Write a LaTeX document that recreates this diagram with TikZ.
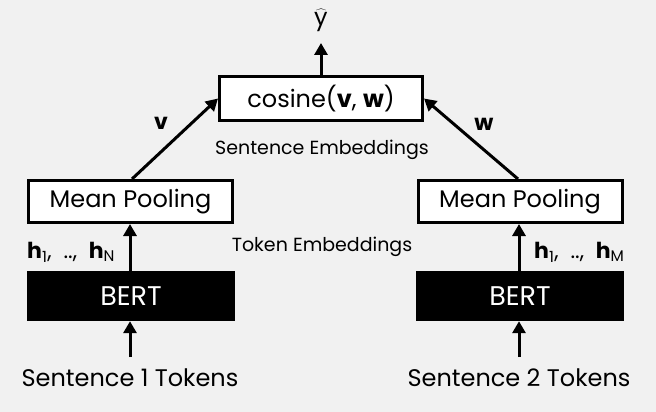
\documentclass[tikz,border=0pt]{standalone}
\usepackage{fontspec}
\setmainfont{Poppins}
\usetikzlibrary{arrows.meta}
\definecolor{bg}{HTML}{F1F1F1}
\begin{document}
\begin{tikzpicture}[x=1pt,y=-1pt,
  box/.style={draw=black, line width=3pt, fill=white, inner sep=0pt, font=\fontsize{24}{28}\selectfont},
  bertbox/.style={fill=black, text=white, minimum width=208pt, minimum height=50pt, inner sep=0pt, font=\fontsize{27}{30}\selectfont},
  arr/.style={line width=3pt, -{Triangle[length=12pt,width=13pt]}},
  lab/.style={inner sep=0pt, font=\fontsize{19}{22}\selectfont},
  hlab/.style={inner sep=0pt, font=\fontsize{22}{26}\selectfont},
  big/.style={inner sep=0pt, font=\fontsize{24}{28}\selectfont}
]
\fill[bg] (0,0) rectangle (656,412);
\useasboundingbox (0,0) rectangle (656,412);
\node[box, minimum width=203pt, minimum height=44pt] (cos) at (321,98.5) {cosine(\textbf{v}, \textbf{w})};
\node[box, minimum width=204pt, minimum height=42pt] (mpL) at (130.5,201.5) {Mean Pooling};
\node[box, minimum width=204pt, minimum height=42pt] (mpR) at (520,201.5) {Mean Pooling};
\node[bertbox] (bertL) at (131,296) {BERT};
\node[bertbox] (bertR) at (520,296) {BERT};
\node[big] (yhat) at (321,20) {$\widehat{\mbox{y}}$};
\coordinate (top) at (321,43);
\node[hlab] (v) at (161,123) {\textbf{v}};
\node[hlab] (w) at (484,124) {\textbf{w}};
\node[lab] (se) at (322,150) {Sentence Embeddings};
\node[lab] (te) at (322,247) {Token Embeddings};
\node[hlab, anchor=west] (hN) at (27,252) {\textbf{h}\textsubscript{1}, ~.., ~\textbf{h}\textsubscript{N}};
\node[hlab, anchor=west] (hM) at (534,252) {\textbf{h}\textsubscript{1}, ~.., ~\textbf{h}\textsubscript{M}};
\node[big] (s1) at (130,378) {Sentence 1 Tokens};
\node[big] (s2) at (519,378) {Sentence 2 Tokens};
\coordinate (a1) at (130,357);
\coordinate (a2) at (519,357);
\draw[arr] (a1) -- (bertL.south -| a1);
\draw[arr] (a2) -- (bertR.south -| a2);
\draw[arr] (bertL.north -| a1) -- (mpL.south -| a1);
\draw[arr] (bertR.north -| a2) -- (mpR.south -| a2);
\draw[arr] ([xshift=1.5pt]mpL.north) -- (cos.west);
\draw[arr] ([xshift=-2pt]mpR.north) -- (cos.east);
\draw[arr] (cos.north) -- (top);
\end{tikzpicture}
\end{document}
